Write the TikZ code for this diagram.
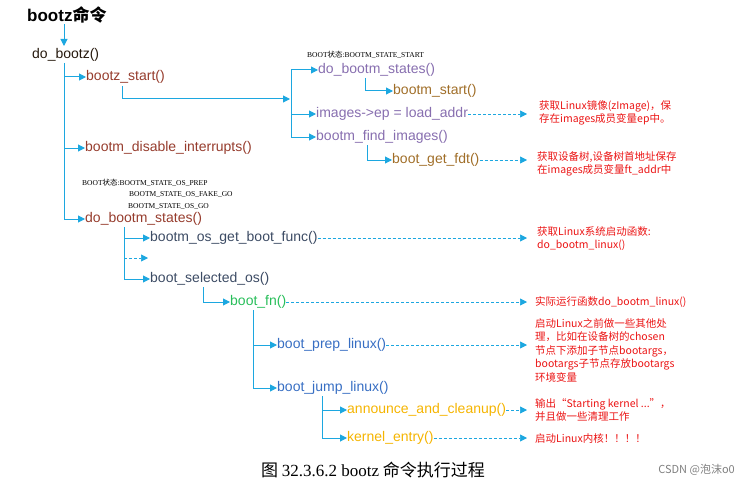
\documentclass[tikz,border=0pt]{standalone}
\usepackage{fontspec}
\setmainfont{Liberation Sans}
\newfontfamily\cjk{Noto Sans CJK SC}
\newfontfamily\serifl{Liberation Serif}
\usetikzlibrary{arrows.meta}
\definecolor{ln}{RGB}{28,167,224}
\definecolor{cbrown}{RGB}{150,60,45}
\definecolor{cpurple}{RGB}{135,110,175}
\definecolor{cgold}{RGB}{160,110,40}
\definecolor{cslate}{RGB}{60,75,100}
\definecolor{cgreen}{RGB}{40,190,90}
\definecolor{cblue}{RGB}{55,110,195}
\definecolor{corange}{RGB}{245,180,0}
\definecolor{cred}{RGB}{235,20,20}
\begin{document}
\begin{tikzpicture}[x=1pt,y=-1pt,
  fn/.style={anchor=west,inner sep=0pt,font=\fontsize{14}{14}\selectfont},
  note/.style={anchor=north west,inner sep=0pt,align=left,text=cred,font=\cjk\fontsize{10.5}{13.5}\selectfont},
  st/.style={anchor=west,inner sep=0pt,font=\serifl\fontsize{7.5}{11}\selectfont},
  line/.style={ln,line width=1pt},
  arr/.style={line,-{Triangle[length=7pt,width=7pt]}},
  darr/.style={ln,line width=0.7pt,dashed,dash pattern=on 3pt off 2pt,-{Triangle[length=7pt,width=7pt]}}]
\useasboundingbox (0,0) rectangle (742,487);
% titles
\node[anchor=west,inner sep=0pt,font=\bfseries\fontsize{17}{17}\selectfont] (title) at (27,15) {bootz{\cjk 命令}};
\node[fn,text=black!80!brown] (dobootz) at (32,55) {do\_bootz()};
\draw[arr] (64,24) -- (64,46);
% level 1
\node[fn,text=cbrown] (bstart) at (86,77) {bootz\_start()};
\node[fn,text=cbrown] (bdis) at (85,148) {bootm\_disable\_interrupts()};
\node[fn,text=cbrown] (dbs1) at (85,219) {do\_bootm\_states()};
\coordinate (m0) at (64,63);
\draw[line] (m0) -- (64,219);
\draw[arr] (64,77) -- (bstart.west);
\draw[arr] (64,148) -- (bdis.west);
\draw[arr] (64,219) -- (dbs1.west);
% bootz_start subtree
\node[st] (s1) at (307,55) {BOOT{\cjk 状态}:BOOTM\_STATE\_START};
\node[fn,text=cpurple] (dbs0) at (318,70) {do\_bootm\_states()};
\node[fn,text=cgold] (bmst) at (393,91) {bootm\_start()};
\node[fn,text=cpurple] (img) at (316,114) {images->ep = load\_addr};
\node[fn,text=cpurple] (bfi) at (316,137) {bootm\_find\_images()};
\node[fn,text=cgold] (bgf) at (392,160) {boot\_get\_fdt()};
\draw[arr] (122,86) |- (290,99);
\draw[line] (291,70) -- (291,137);
\draw[arr] (291,70) -- (dbs0.west);
\draw[arr] (291,114) -- (img.west);
\draw[arr] (291,137) -- (bfi.west);
\draw[arr] (365,78) |- (bmst.west);
\draw[arr] (367,145) |- (bgf.west);
\node[note] (n1) at (539,100) {获取Linux镜像(zImage)，保\\存在images成员变量ep中。};
\node[note] (n2) at (537,151) {获取设备树,设备树首地址保存\\在images成员变量ft\_addr中};
\draw[darr] (img.east) -- (527,114);
\draw[darr] (bgf.east) -- (527,160);
% do_bootm_states subtree
\node[st] (s2) at (82,183) {BOOT{\cjk 状态}:BOOTM\_STATE\_OS\_PREP};
\node[st] (s3) at (129,194) {BOOTM\_STATE\_OS\_FAKE\_GO};
\node[st] (s4) at (128,206) {BOOTM\_STATE\_OS\_GO};
\node[fn,text=cslate] (gbf) at (150,238) {bootm\_os\_get\_boot\_func()};
\node[fn,text=cslate] (bso) at (150,279) {boot\_selected\_os()};
\coordinate (dd) at (148,258);
\draw[line] (124,227) -- (124,279);
\draw[arr] (124,238) -- (gbf.west);
\draw[darr] (124,258) -- (dd);
\draw[arr] (124,279) -- (bso.west);
\node[note] (n3) at (537,226) {获取Linux系统启动函数:\\do\_bootm\_linux()};
\draw[darr] (gbf.east) -- (527,238);
% boot_fn
\node[fn,text=cgreen] (bfn) at (230,302) {boot\_fn()};
\draw[arr] (203,287) |- (bfn.west);
\node[note,anchor=west] (n4) at (535,302) {实际运行函数do\_bootm\_linux()};
\draw[darr] (bfn.east) -- (527,302);
\node[fn,text=cblue] (bpl) at (277,345) {boot\_prep\_linux()};
\node[fn,text=cblue] (bjl) at (277,388) {boot\_jump\_linux()};
\draw[line] (253,310) -- (253,388);
\draw[arr] (253,345) -- (bpl.west);
\draw[arr] (253,388) -- (bjl.west);
\node[note] (n5) at (535,318) {启动Linux之前做一些其他处\\理，比如在设备树的chosen\\节点下添加子节点bootargs，\\bootargs子节点存放bootargs\\环境变量};
\draw[darr] (bpl.east) -- (527,345);
\node[fn,text=corange] (aac) at (347,410) {announce\_and\_cleanup()};
\node[fn,text=corange] (ke) at (347,438) {kernel\_entry()};
\draw[line] (322,396) -- (322,438);
\draw[arr] (322,410) -- (aac.west);
\draw[arr] (322,438) -- (ke.west);
\node[note] (n6) at (535,398) {输出“Starting kernel ...”，\\并且做一些清理工作};
\node[note,anchor=west] (n7) at (535,438) {启动Linux内核！！！！};
\draw[darr] (aac.east) -- (527,410);
\draw[darr] (ke.east) -- (527,438);
% caption
\node[inner sep=0pt,font=\cjk\fontsize{17}{17}\selectfont] (cap) at (373,470) {图 {\serifl 32.3.6.2 bootz} 命令执行过程};
\node[anchor=east,inner sep=0pt,text=gray,font=\cjk\fontsize{11}{11}\selectfont] (csdn) at (735,470) {CSDN @泡沫o0};
\end{tikzpicture}
\end{document}
